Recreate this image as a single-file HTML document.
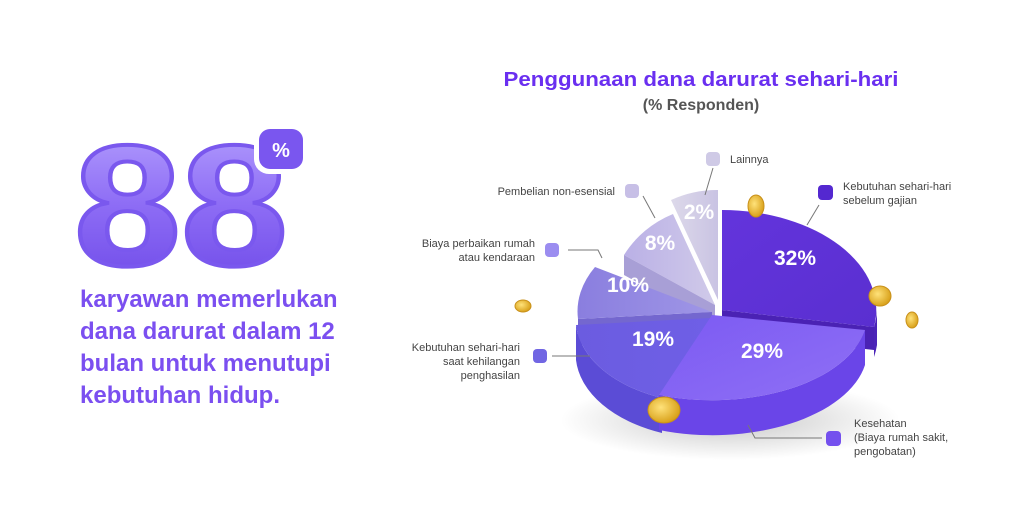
<!DOCTYPE html>
<html><head><meta charset="utf-8"><style>
html,body{margin:0;padding:0;background:#fff;}
svg{display:block;}
text{font-family:"Liberation Sans",sans-serif;}
</style></head><body>
<svg width="1024" height="528" viewBox="0 0 1024 528" xmlns="http://www.w3.org/2000/svg">
<defs>
<linearGradient id="g88" x1="0" y1="0" x2="0" y2="1">
<stop offset="0" stop-color="#b9a6ff"/><stop offset="0.5" stop-color="#8d6cf5"/><stop offset="1" stop-color="#6a45e6"/>
</linearGradient>
<linearGradient id="t32" x1="0" y1="0" x2="1" y2="1"><stop offset="0" stop-color="#6334dc"/><stop offset="1" stop-color="#5a2fd0"/></linearGradient>
<linearGradient id="t29" x1="0" y1="0" x2="1" y2="1"><stop offset="0" stop-color="#7c5af3"/><stop offset="1" stop-color="#8f70f4"/></linearGradient>
<linearGradient id="t19" x1="0" y1="0" x2="1" y2="0"><stop offset="0" stop-color="#6b5ce0"/><stop offset="1" stop-color="#6f5fe6"/></linearGradient>
<linearGradient id="t10" x1="0" y1="0" x2="1" y2="0"><stop offset="0" stop-color="#8a7edf"/><stop offset="1" stop-color="#9f96e6"/></linearGradient>
<linearGradient id="t8" x1="0" y1="0" x2="1" y2="0"><stop offset="0" stop-color="#bab0e6"/><stop offset="1" stop-color="#d0cae9"/></linearGradient>
<linearGradient id="t2" x1="0" y1="0" x2="1" y2="0"><stop offset="0" stop-color="#ddd9ea"/><stop offset="1" stop-color="#c9c3e3"/></linearGradient>
<radialGradient id="coin" cx="0.4" cy="0.4" r="0.6"><stop offset="0" stop-color="#ffe27a"/><stop offset="1" stop-color="#d9a21c"/></radialGradient>
<radialGradient id="shadow" cx="0.5" cy="0.5" r="0.5"><stop offset="0" stop-color="#000" stop-opacity="0.22"/><stop offset="1" stop-color="#000" stop-opacity="0"/></radialGradient>
</defs>

<!-- 88 -->
<text x="74" y="265" font-size="172" font-weight="bold" fill="url(#g88)" stroke="#7a58ee" stroke-width="4" textLength="214" lengthAdjust="spacingAndGlyphs">88</text>
<rect x="254" y="124" width="54" height="50" rx="15" fill="#fff"/>
<rect x="259" y="129" width="44" height="40" rx="11" fill="#7a56ef"/>
<text x="281" y="157" font-size="20" font-weight="bold" fill="#fff" text-anchor="middle">%</text>

<g font-size="24" font-weight="bold" fill="#7b4ff0">
<text x="80" y="307">karyawan memerlukan</text>
<text x="80" y="339">dana darurat dalam 12</text>
<text x="80" y="371">bulan untuk menutupi</text>
<text x="80" y="403">kebutuhan hidup.</text>
</g>

<!-- title -->
<text x="701" y="86" font-size="20" font-weight="bold" fill="#6a2ff0" text-anchor="middle" textLength="395" lengthAdjust="spacingAndGlyphs">Penggunaan dana darurat sehari-hari</text>
<text x="701" y="110" font-size="16" font-weight="bold" fill="#555" text-anchor="middle">(% Responden)</text>

<!-- shadow -->
<ellipse cx="730" cy="420" rx="170" ry="40" fill="url(#shadow)"/>

<!-- 2% -->
<path d="M671,200 A110,110 0 0 1 718,190 L718,300 Z" fill="url(#t2)"/>
<!-- 8% -->
<path d="M624,255 A105,100 0 0 1 673,214 L715,305 Z" fill="url(#t8)"/>
<path d="M624,255 L624,275 L715,325 L715,305 Z" fill="#a89fd6"/>
<!-- 32% -->
<path d="M874,327 A155,100 0 0 0 877,310 L877,345 A155,100 0 0 1 874,357 Z" fill="#4b24b8"/>
<path d="M874,327 L874,350 L722,333 L722,310 Z" fill="#4a22b4"/>
<path d="M722,210 A155,100 0 0 1 874,327 L722,310 Z" fill="url(#t32)"/>
<!-- 10% -->
<path d="M578,319 L578,345 L712,340 L712,312 Z" fill="#7467cf"/>
<path d="M578,319 A135,90 0 0 1 595,267 L712,312 Z" fill="url(#t10)"/>
<!-- 19% -->
<path d="M662,398 A135,85 0 0 1 576,325 L576,360 A135,85 0 0 0 662,433 Z" fill="#5b4cd6"/>
<path d="M662,398 A135,85 0 0 1 576,325 L710,318 Z" fill="url(#t19)"/>
<!-- 29% -->
<path d="M865,330 A155,85 0 0 1 659,395 L659,430 A155,85 0 0 0 865,365 Z" fill="#6a45e8"/>
<path d="M865,330 A155,85 0 0 1 659,395 L712,315 Z" fill="url(#t29)"/>

<g font-size="21" font-weight="bold" fill="#fff" text-anchor="middle">
<text x="795" y="265">32%</text>
<text x="762" y="358">29%</text>
<text x="653" y="346">19%</text>
<text x="628" y="292">10%</text>
<text x="660" y="250">8%</text>
<text x="699" y="219">2%</text>
</g>

<!-- coins -->
<ellipse cx="756" cy="206" rx="8" ry="11" fill="url(#coin)" stroke="#c8901a"/>
<ellipse cx="880" cy="296" rx="11" ry="10" fill="url(#coin)" stroke="#c8901a"/>
<ellipse cx="912" cy="320" rx="6" ry="8" fill="url(#coin)" stroke="#c8901a"/>
<ellipse cx="523" cy="306" rx="8" ry="6" fill="url(#coin)" stroke="#c8901a"/>
<ellipse cx="664" cy="410" rx="16" ry="13" fill="url(#coin)" stroke="#c8901a"/>

<!-- leader lines -->
<g stroke="#777" stroke-width="1" fill="none">
<path d="M713,168 L705,195"/>
<path d="M643,196 L655,218"/>
<path d="M568,250 L598,250 L602,258"/>
<path d="M552,356 L590,356"/>
<path d="M819,205 L807,225"/>
<path d="M748,425 L755,438 L822,438"/>
</g>

<!-- legend squares -->
<g>
<rect x="706" y="152" width="14" height="14" rx="4" fill="#cfcae6"/>
<rect x="625" y="184" width="14" height="14" rx="4" fill="#c7bfe6"/>
<rect x="545" y="243" width="14" height="14" rx="4" fill="#9b8df0"/>
<rect x="533" y="349" width="14" height="14" rx="4" fill="#7166e3"/>
<rect x="818" y="185" width="15" height="15" rx="4" fill="#5428d0"/>
<rect x="826" y="431" width="15" height="15" rx="4" fill="#7450ee"/>
</g>

<g font-size="11" fill="#444">
<text x="730" y="163">Lainnya</text>
<text x="615" y="195" text-anchor="end">Pembelian non-esensial</text>
<text x="535" y="247" text-anchor="end">Biaya perbaikan rumah</text>
<text x="535" y="261" text-anchor="end">atau kendaraan</text>
<text x="520" y="351" text-anchor="end">Kebutuhan sehari-hari</text>
<text x="520" y="365" text-anchor="end">saat kehilangan</text>
<text x="520" y="379" text-anchor="end">penghasilan</text>
<text x="843" y="190">Kebutuhan sehari-hari</text>
<text x="843" y="204">sebelum gajian</text>
<text x="854" y="427">Kesehatan</text>
<text x="854" y="441">(Biaya rumah sakit,</text>
<text x="854" y="455">pengobatan)</text>
</g>
</svg>
</body></html>
